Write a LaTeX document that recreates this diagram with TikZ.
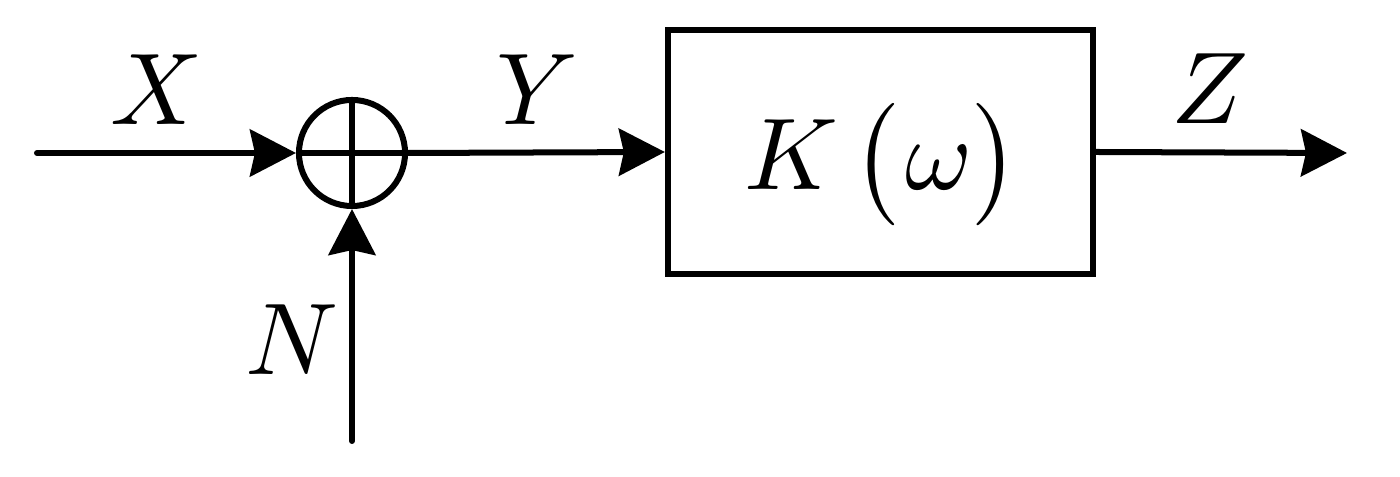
\documentclass[tikz,border=0pt]{standalone}
\usepackage{graphicx}
\usetikzlibrary{arrows.meta}
\newcommand{\bigtxt}[1]{\scalebox{2.9}{#1}}
\begin{document}
\begin{tikzpicture}[x=0.01cm,y=-0.01cm,
  wire/.style={line width=0.06cm,line cap=round},
  arr/.style={wire,-{Stealth[length=0.46cm,width=0.47cm,inset=0.05cm]}},
  lbl/.style={inner sep=0,anchor=base},
  sumnode/.style={circle,draw,line width=0.06cm,minimum size=1.06cm,inner sep=0},
  blk/.style={draw,line width=0.06cm,minimum width=4.25cm,minimum height=2.44cm,inner sep=0}]
\useasboundingbox (0,0) rectangle (1400,477);
\node[sumnode] (s) at (352,153) {};
\node[blk] (k) at (880.5,152) {};
\coordinate (xin) at (37,153);
\coordinate (nin) at (352,441);
\coordinate (zout) at (1347,153);
\draw[line width=0.06cm] (s.center) ++(0,-53) -- ++(0,106);
\draw[line width=0.06cm] (s.center) ++(-53,0) -- ++(106,0);
\draw[arr] (xin) -- (s.west);
\draw[arr] (nin) -- (s.south);
\draw[arr] (s.east) -- (k.west);
\draw[arr] (k.east) -- (zout);
\node[lbl] (lx) at (157,125) {\bigtxt{$X$}};
\node[lbl] (ly) at (537,125) {\bigtxt{$Y$}};
\node[lbl] (lz) at (1210,124) {\bigtxt{$Z$}};
\node[lbl] (ln) at (292,375) {\bigtxt{$N$}};
\node[lbl] (lk) at (882,190) {\bigtxt{$K\mkern2.5mu\bigl(\mkern1mu\omega\bigr)$}};
\end{tikzpicture}
\end{document}
